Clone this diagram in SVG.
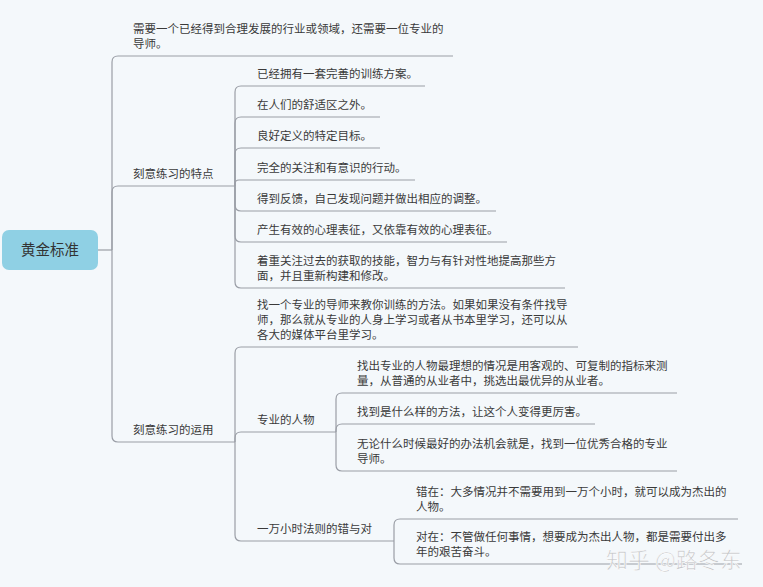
<svg xmlns="http://www.w3.org/2000/svg" width="763" height="587" viewBox="0 0 763 587">
<style>
.bg{fill:#f4f8fb}
.t{font-family:"Noto Sans CJK SC","Noto Sans",sans-serif;font-size:11.5px;fill:#3a3a3a}
.root{fill:#8fd0e4}
.rt{font-family:"Noto Sans CJK SC","Noto Sans",sans-serif;font-size:14.5px;fill:#333;text-anchor:middle}
.c{fill:none;stroke:#9a9ea6;stroke-width:1.2}
.wm{font-family:"Noto Sans CJK SC","Noto Sans",sans-serif;font-size:22px;fill:#c4c6c9;stroke:#ffffff;stroke-width:0.6}
</style>
<rect class="bg" x="0" y="0" width="763" height="587"/>
<g id="connectors">
  <path class="c" d="M98 250 H112"/>
  <path class="c" d="M112 250 V62 Q112 56 118 56 H453"/>
  <path class="c" d="M112 250 V192 Q112 186 118 186 H235"/>
  <path class="c" d="M112 250 V436 Q112 442 118 442 H235"/>
  <path class="c" d="M235 186 V92 Q235 86 241 86 H425"/>
  <path class="c" d="M235 186 V123 Q235 117 241 117 H380"/>
  <path class="c" d="M235 186 V154 Q235 148 241 148 H380"/>
  <path class="c" d="M235 186 V184 Q235 180 239 180 H415"/>
  <path class="c" d="M235 186 V205 Q235 211 241 211 H496"/>
  <path class="c" d="M235 186 V236 Q235 242 241 242 H507"/>
  <path class="c" d="M235 186 V282 Q235 288 241 288 H565"/>
  <path class="c" d="M235 442 V353 Q235 347 241 347 H578"/>
  <path class="c" d="M235 442 V438 Q235 432 241 432 H336"/>
  <path class="c" d="M235 442 V535 Q235 541 241 541 H394"/>
  <path class="c" d="M336 432 V399 Q336 393 342 393 H677"/>
  <path class="c" d="M336 432 V430 Q336 424 342 424 H595"/>
  <path class="c" d="M336 432 V465 Q336 471 342 471 H677"/>
  <path class="c" d="M394 541 V525 Q394 519 400 519 H738"/>
  <path class="c" d="M394 541 V558 Q394 564 400 564 H742"/>
</g>
<g id="root">
  <rect class="root" x="2" y="230" width="96" height="40" rx="7"/>
  <text class="rt" x="50" y="255">黄金标准</text>
</g>
<g id="n-mentor-field"><text class="t" x="133" y="33">需要一个已经得到合理发展的行业或领域，还需要一位专业的</text><text class="t" x="133" y="48">导师。</text></g>
<g id="n-features"><text class="t" x="133" y="178">刻意练习的特点</text></g>
<g id="n-usage"><text class="t" x="133" y="434">刻意练习的运用</text></g>
<g id="n-f1"><text class="t" x="257" y="78">已经拥有一套完善的训练方案。</text></g>
<g id="n-f2"><text class="t" x="257" y="109">在人们的舒适区之外。</text></g>
<g id="n-f3"><text class="t" x="257" y="140">良好定义的特定目标。</text></g>
<g id="n-f4"><text class="t" x="257" y="172">完全的关注和有意识的行动。</text></g>
<g id="n-f5"><text class="t" x="257" y="203">得到反馈，自己发现问题并做出相应的调整。</text></g>
<g id="n-f6"><text class="t" x="257" y="234">产生有效的心理表征，又依靠有效的心理表征。</text></g>
<g id="n-f7"><text class="t" x="257" y="265">着重关注过去的获取的技能，智力与有针对性地提高那些方</text><text class="t" x="257" y="280">面，并且重新构建和修改。</text></g>
<g id="n-u1"><text class="t" x="257" y="309">找一个专业的导师来教你训练的方法。如果如果没有条件找导</text><text class="t" x="257" y="324">师，那么就从专业的人身上学习或者从书本里学习，还可以从</text><text class="t" x="257" y="339">各大的媒体平台里学习。</text></g>
<g id="n-u2"><text class="t" x="257" y="424">专业的人物</text></g>
<g id="n-u3"><text class="t" x="257" y="533">一万小时法则的错与对</text></g>
<g id="n-p1"><text class="t" x="357" y="370">找出专业的人物最理想的情况是用客观的、可复制的指标来测</text><text class="t" x="357" y="385">量，从普通的从业者中，挑选出最优异的从业者。</text></g>
<g id="n-p2"><text class="t" x="357" y="416">找到是什么样的方法，让这个人变得更厉害。</text></g>
<g id="n-p3"><text class="t" x="357" y="448">无论什么时候最好的办法机会就是，找到一位优秀合格的专业</text><text class="t" x="357" y="463">导师。</text></g>
<g id="n-w1"><text class="t" x="416" y="496">错在：大多情况并不需要用到一万个小时，就可以成为杰出的</text><text class="t" x="416" y="511">人物。</text></g>
<g id="n-w2"><text class="t" x="416" y="541">对在：不管做任何事情，想要成为杰出人物，都是需要付出多</text><text class="t" x="416" y="556">年的艰苦奋斗。</text></g>
<text class="wm" x="606" y="568">知乎 @路冬东</text>
</svg>
